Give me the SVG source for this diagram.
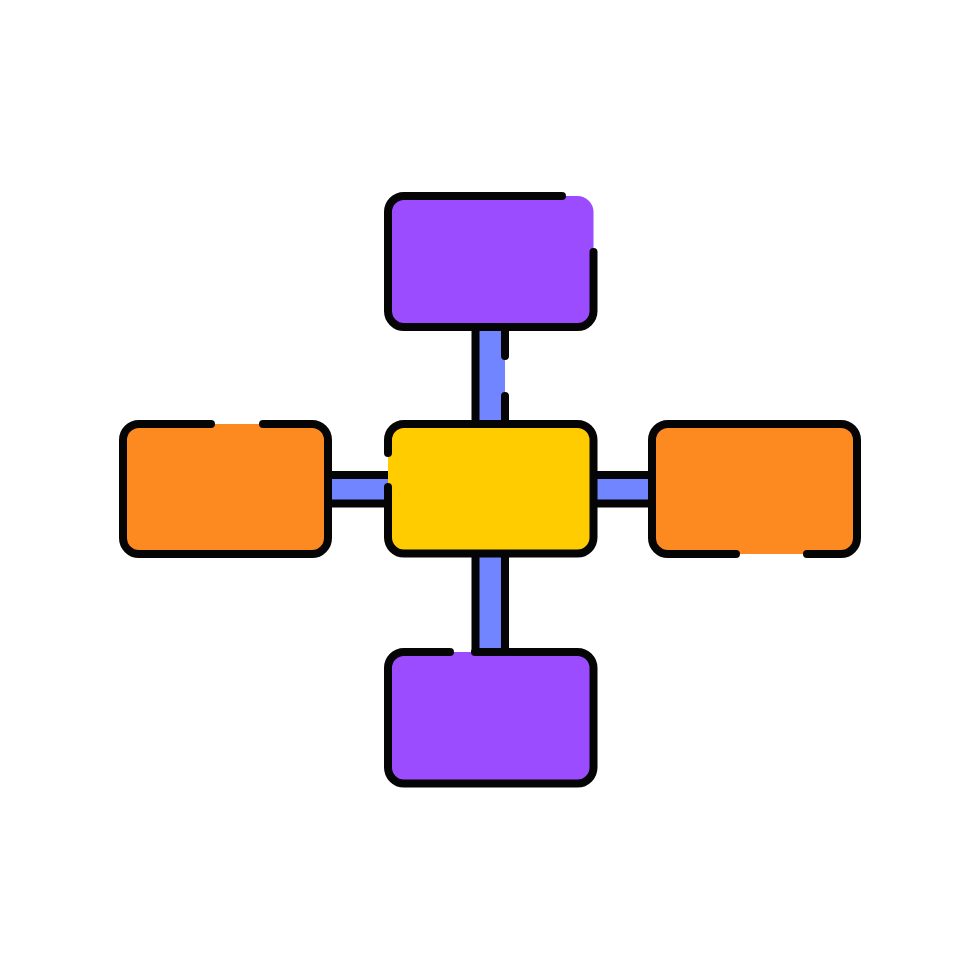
<svg xmlns="http://www.w3.org/2000/svg" width="980" height="980" viewBox="0 0 980 980">
<style>
.ln{fill:none;stroke:#050505;stroke-width:8;stroke-linecap:round;stroke-linejoin:round}
.bl{fill:#7085FF}
.pu{fill:#9C4CFF}
.or{fill:#FC8A20}
.ye{fill:#FFCC00}
</style>
<rect width="980" height="980" fill="#ffffff"/>
<g id="connectors">
  <rect class="bl" x="475.5" y="325" width="29.5" height="101"/>
  <path class="ln" d="M475.5,327 V424 M505,327 V356 M505,396 V424"/>
  <rect class="bl" x="475.5" y="551" width="29.5" height="103"/>
  <path class="ln" d="M475.5,553.5 V652 M505,553.5 V652"/>
  <rect class="bl" x="326" y="475" width="64" height="28.5"/>
  <path class="ln" d="M328,475 H388 M328,503.5 H388"/>
  <rect class="bl" x="591" y="475" width="63" height="28.5"/>
  <path class="ln" d="M593.5,475 H652 M593.5,503.5 H652"/>
</g>
<g id="node-top">
  <rect class="pu" x="388" y="196" width="205.5" height="131" rx="16"/>
  <path class="ln" d="M562,196 H404 A16,16 0 0 0 388,212 V311 A16,16 0 0 0 404,327 H577.5 A16,16 0 0 0 593.5,311 V252"/>
</g>
<g id="node-center">
  <rect class="ye" x="388" y="424" width="205.5" height="129.5" rx="16"/>
  <path class="ln" d="M388,453 V440 A16,16 0 0 1 404,424 H577.5 A16,16 0 0 1 593.5,440 V537.5 A16,16 0 0 1 577.5,553.5 H404 A16,16 0 0 1 388,537.5 V487"/>
</g>
<g id="node-left">
  <rect class="or" x="123" y="424" width="205" height="130" rx="16"/>
  <path class="ln" d="M211,424 H139 A16,16 0 0 0 123,440 V538 A16,16 0 0 0 139,554 H312 A16,16 0 0 0 328,538 V440 A16,16 0 0 0 312,424 H263"/>
</g>
<g id="node-right">
  <rect class="or" x="652" y="424" width="205" height="130" rx="16"/>
  <path class="ln" d="M736,554 H668 A16,16 0 0 1 652,538 V440 A16,16 0 0 1 668,424 H841 A16,16 0 0 1 857,440 V538 A16,16 0 0 1 841,554 H807"/>
</g>
<g id="node-bottom">
  <rect class="pu" x="388" y="652" width="205.5" height="131.5" rx="16"/>
  <path class="ln" d="M450,652 H404 A16,16 0 0 0 388,668 V767.5 A16,16 0 0 0 404,783.5 H577.5 A16,16 0 0 0 593.5,767.5 V668 A16,16 0 0 0 577.5,652 H475"/>
</g>
</svg>
